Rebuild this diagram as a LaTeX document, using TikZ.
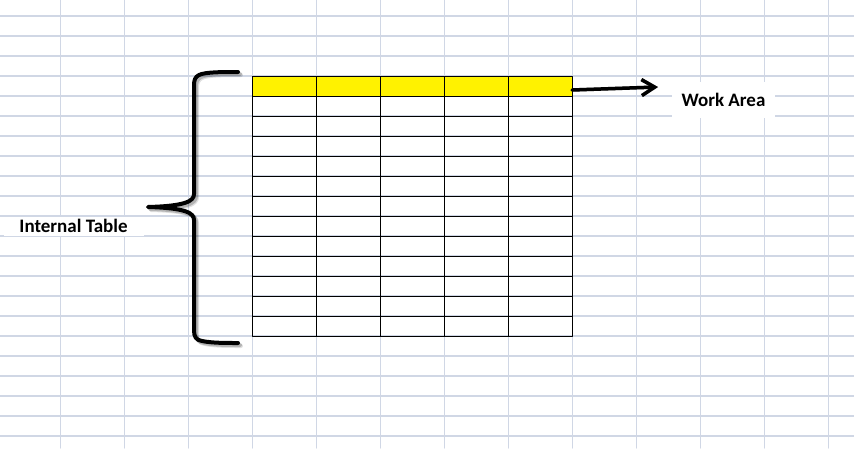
\documentclass[tikz,border=0pt]{standalone}
\usepackage{fontspec}
\setmainfont{Carlito}
\usetikzlibrary{arrows.meta}
\definecolor{sheetgrid}{HTML}{D0D7E5}
\tikzset{
  bracepath/.style={insert path={(238,72) .. controls (222,72) and (205,72) .. (199,75)
      .. controls (195,77) and (194,80) .. (194,86) -- (194,194)
      .. controls (194,201) and (186,206) .. (148,207)
      .. controls (186,208) and (194,213) .. (194,220) -- (194,330)
      .. controls (194,337) and (196,340) .. (202,341)
      .. controls (212,343) and (225,343) .. (238,343)}},
  label/.style={fill=white,inner sep=0pt,font=\fontsize{19}{21}\selectfont\bfseries},
  cell/.style={draw=black,line width=1pt}
}
\begin{document}
\begin{tikzpicture}[x=1pt,y=-1pt,line join=round,line cap=round]
\useasboundingbox (0,0) rectangle (854,448);
\fill[white] (0,0) rectangle (854,448);
\foreach \x in {0,...,12}
  \draw[sheetgrid,line width=1.2pt] ({60.3+64*\x},0) -- ({60.3+64*\x},448);
\foreach \y in {0,...,21}
  \draw[sheetgrid,line width=1.2pt] (0,{16+20*\y}) -- (854,{16+20*\y});
\node[fill=yellow,inner sep=0pt,minimum width=320,minimum height=20] (hdr) at (412,86) {};
\foreach \r in {0,...,12}
  \foreach \c in {0,...,4}
    \draw[cell] ({252+64*\c},{76+20*\r}) rectangle +(64,20);
\node[label,minimum width=140,minimum height=19] (itab) at (73.5,226) {Internal Table};
\node[label,minimum width=103,minimum height=36] (warea) at (723.5,99.5) {Work Area};
\coordinate (wtip) at (658,87);
\foreach \o/\op in {3/0.12,2/0.2}
  \draw[black,opacity=\op,line width=4pt,shift={(\o,\o)},bracepath];
\draw[black,line width=4pt,bracepath];
\foreach \o/\op in {3/0.12,2/0.2}
  \draw[black,opacity=\op,line width=3.5pt,shift={(\o,\o)},-{Straight Barb[length=13pt,width=16pt]}] ([yshift=-4pt]hdr.east) -- (wtip);
\draw[black,line width=3.5pt,-{Straight Barb[length=13pt,width=16pt]}] ([yshift=-4pt]hdr.east) -- (wtip);
\end{tikzpicture}
\end{document}
